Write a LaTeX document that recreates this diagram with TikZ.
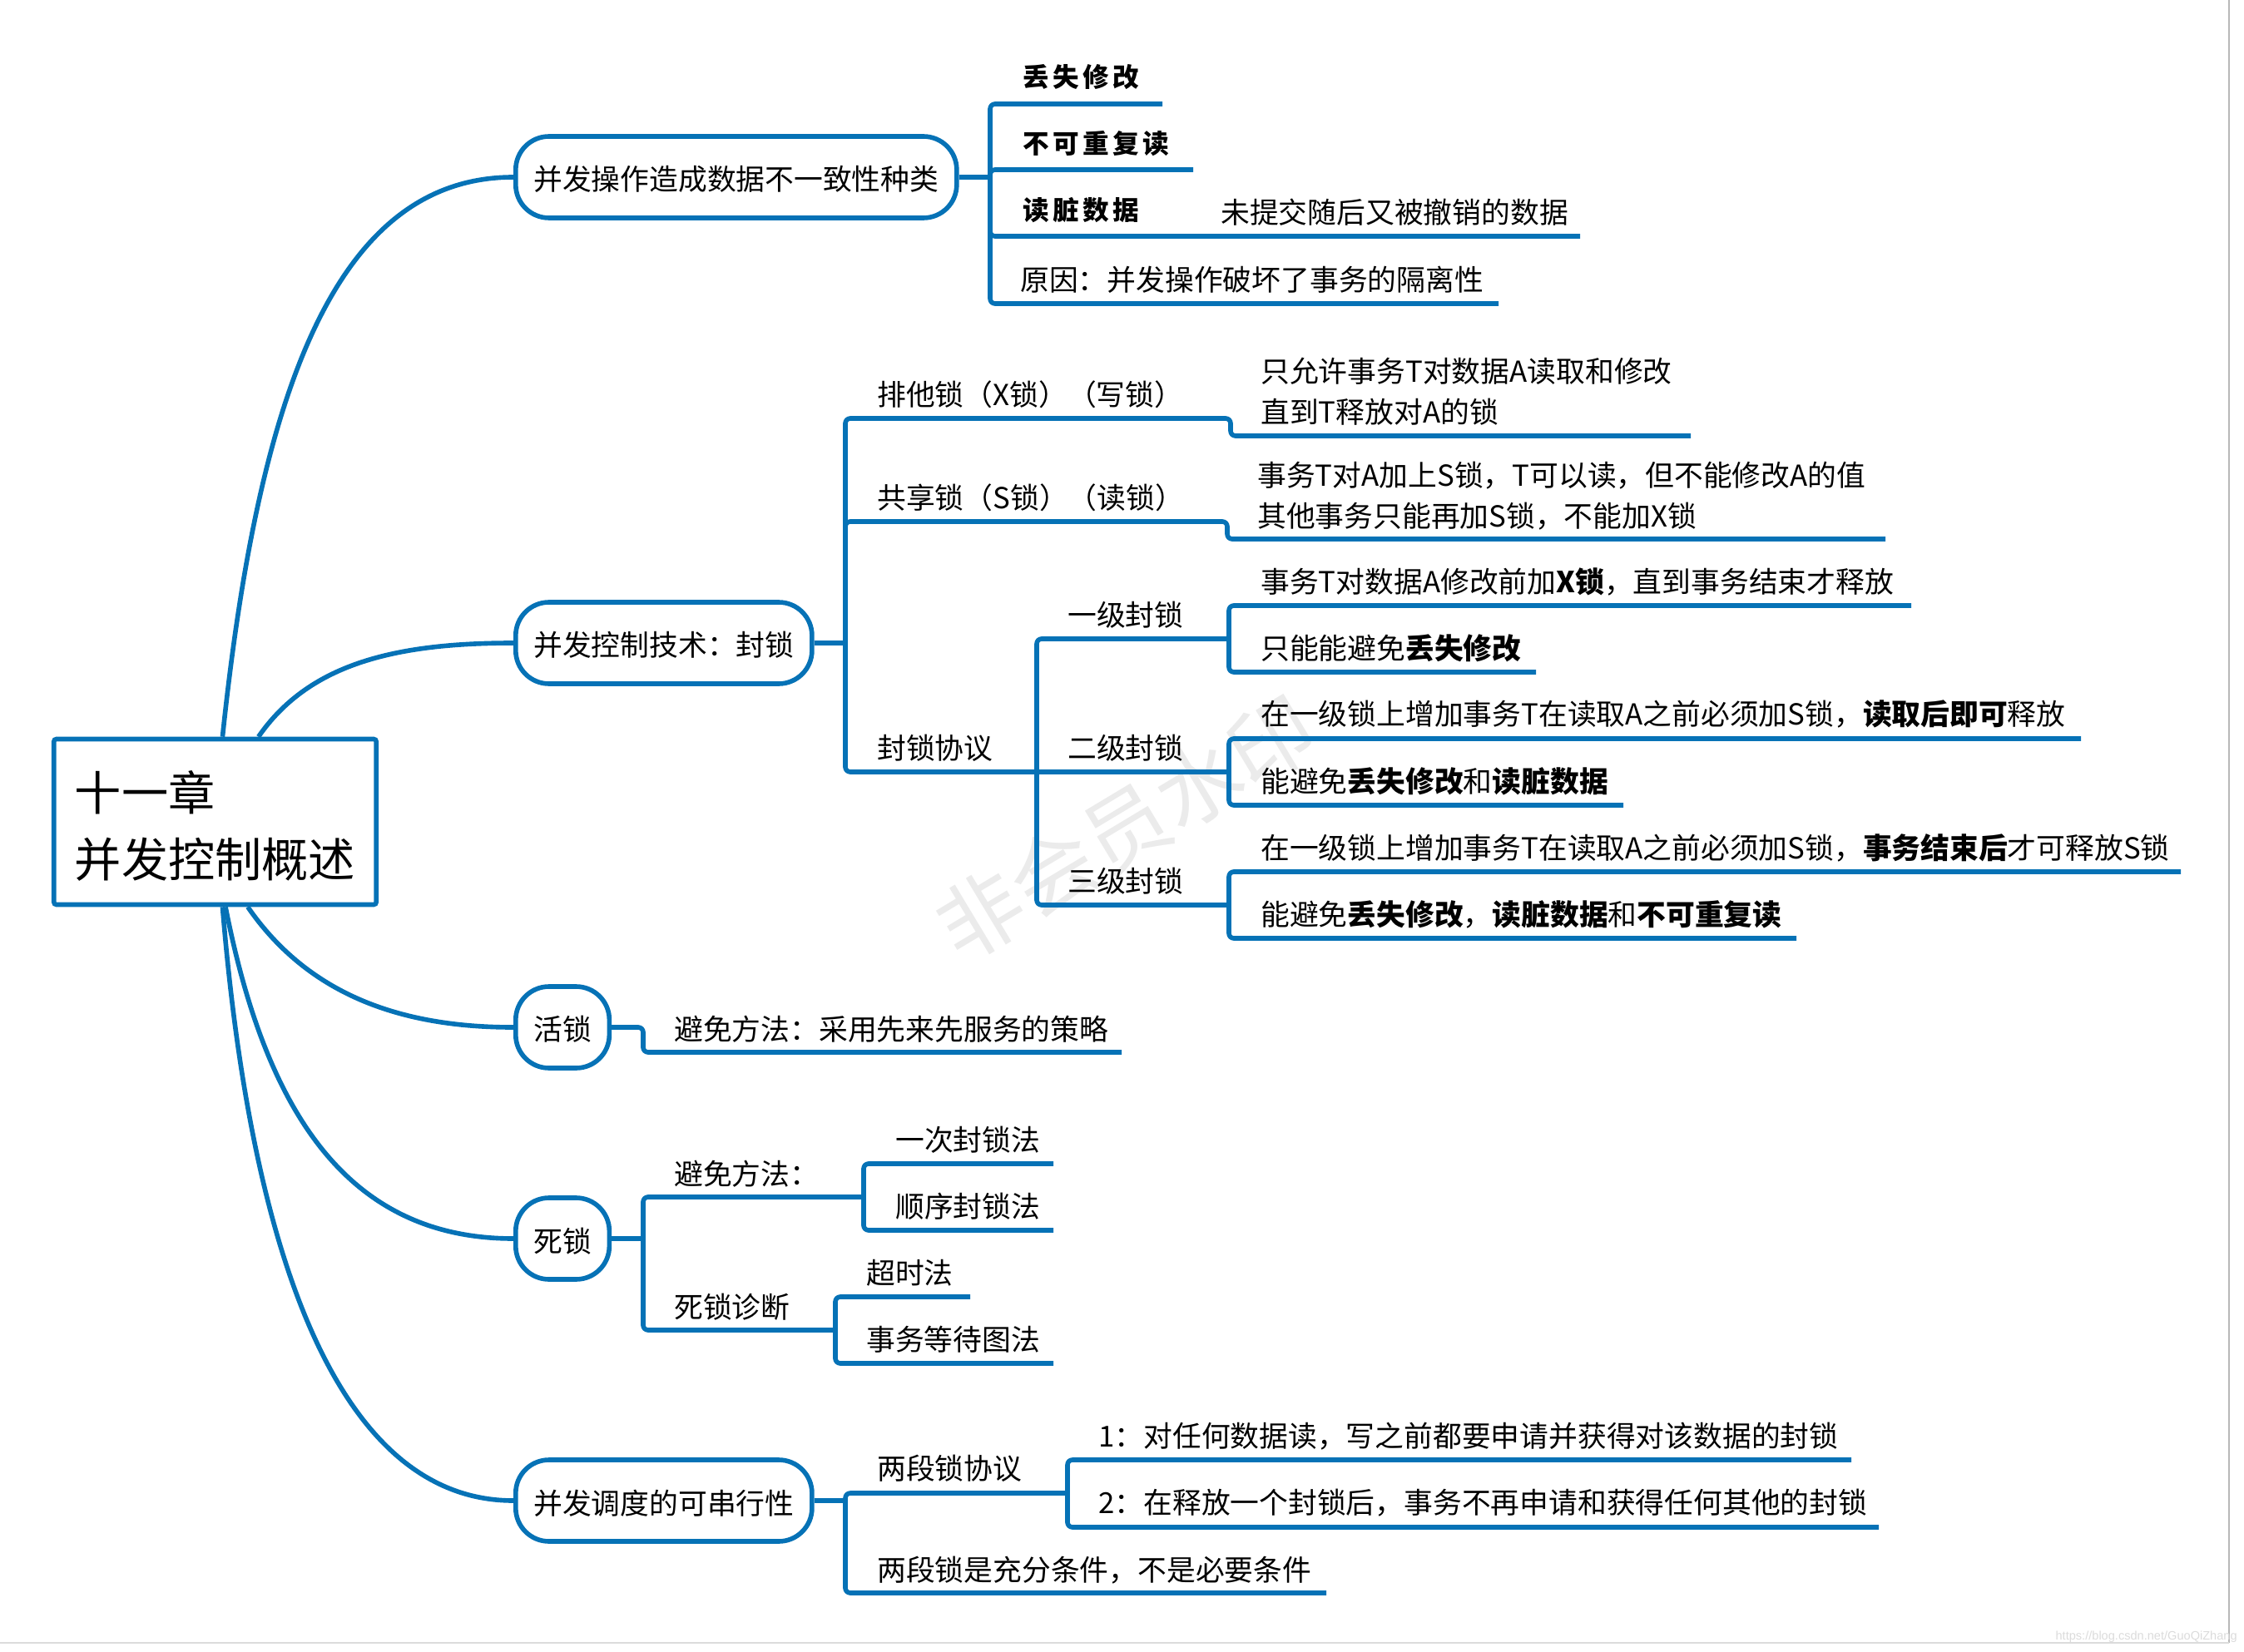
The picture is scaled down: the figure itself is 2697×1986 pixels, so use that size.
\documentclass[tikz,border=0pt]{standalone}
\usepackage{fontspec}
\setmainfont{Noto Sans CJK SC}
\newfontfamily\brushfont[LetterSpace=14]{Noto Sans CJK SC}
\newfontfamily\urlfont{Liberation Sans}
\definecolor{mapblue}{HTML}{0672B6}
\tikzset{
  branch/.style={draw=mapblue,line width=3.2pt,rounded corners=0.12cm},
  pill/.style={draw=mapblue,line width=3.2pt,rounded corners=0.8cm,minimum height=1.96cm,inner xsep=0.43cm,anchor=west,text height=20.6pt,text depth=2.4pt,font=\fontsize{19.8}{28}\selectfont},
  leaf/.style={anchor=west,inner sep=0pt,text height=17.4pt,text depth=2.4pt,font=\fontsize{19.8}{28}\selectfont},
  brush/.style={anchor=west,inner sep=0pt,text height=15.8pt,text depth=2.2pt,font=\brushfont\bfseries\fontsize{18}{22}\selectfont},
}

\begin{document}
\begin{tikzpicture}[x=0.02cm,y=-0.02cm]
\useasboundingbox (0,0) rectangle (2697,1986);

    \node[rotate=31,text=black!8,font=\fontsize{58}{64}\selectfont] (mark) at (1353,995) {非会员水印};
    \draw[black!28,line width=0.9pt] (2679,0) -- (2679,1975);
    \draw[black!14,line width=1.2pt] (0,1975) -- (2679,1975);
    \node[anchor=east,inner sep=0pt,text=black!14,font=\urlfont\fontsize{8.3}{10}\selectfont] (url) at (2689,1968) {https://blog.csdn.net/GuoQiZhang};

    \node[draw=mapblue,line width=3.2pt,rounded corners=0.06cm,minimum width=7.75cm,minimum height=3.98cm,align=left,font=\fontsize{32}{45.5}\selectfont] (root) at (258.5,988) {\rule{0pt}{33pt}十一章\\并发控制概述};

    \node[pill] (kinds) at (617,213) {并发操作造成数据不一致性种类};
    \node[pill] (tech) at (617,773) {并发控制技术：封锁};
    \node[pill] (live) at (617,1235) {活锁};
    \node[pill] (dead) at (617,1489) {死锁};
    \node[pill] (serial) at (617,1804) {并发调度的可串行性};

    \draw[branch] (root.85) .. controls (310,480) and (400,213) .. (kinds.west);
    \draw[branch] (root.63) .. controls (370,800) and (470,773) .. (tech.west);
    \draw[branch] (root.-69) .. controls (370,1195) and (480,1235) .. (live.west);
    \draw[branch] (root.-83) .. controls (320,1340) and (420,1489) .. (dead.west);
    \draw[branch] (root.-85) .. controls (300,1490) and (400,1804) .. (serial.west);

    \node[brush] (lost) at (1229,93) {丢失修改};
    \node[brush] (repeat) at (1229,173) {不可重复读};
    \node[brush] (dirty) at (1229,253) {读脏数据};
    \node[leaf] (dirtyNote) at (1467,255) {未提交随后又被撤销的数据};
    \node[leaf] (cause) at (1226,336) {原因：并发操作破坏了事务的隔离性};
    \coordinate (kindsJoint) at (1190,213);
    \coordinate (lostEnd) at (1397,125);
    \coordinate (repeatEnd) at (1434,204);
    \coordinate (dirtyEnd) at (1899,284);
    \coordinate (causeEnd) at (1801,365);
    \draw[branch] (kinds.east) -- (kindsJoint);
    \draw[branch] (lostEnd) -| (kindsJoint);
    \draw[branch] (repeatEnd) -| (kindsJoint);
    \draw[branch] (dirtyEnd) -| (kindsJoint);
    \draw[branch] (causeEnd) -| (kindsJoint);

    \node[leaf] (xlock) at (1054,474) {排他锁（X锁）（写锁）};
    \node[leaf] (xruleA) at (1515,446) {只允许事务T对数据A读取和修改};
    \node[leaf] (xruleB) at (1515,495) {直到T释放对A的锁};
    \node[leaf] (slock) at (1054,598) {共享锁（S锁）（读锁）};
    \node[leaf] (sruleA) at (1511,571) {事务T对A加上S锁，T可以读，但不能修改A的值};
    \node[leaf] (sruleB) at (1511,620) {其他事务只能再加S锁，不能加X锁};
    \node[leaf] (proto) at (1054,899) {封锁协议};
    \node[leaf] (lvlOne) at (1283,739) {一级封锁};
    \node[leaf] (lvlTwo) at (1283,899) {二级封锁};
    \node[leaf] (lvlThree) at (1283,1059) {三级封锁};
    \node[leaf] (oneA) at (1515,699) {事务T对数据A修改前加\textbf{X锁}，直到事务结束才释放};
    \node[leaf] (oneB) at (1515,779) {只能能避免\textbf{丢失修改}};
    \node[leaf] (twoA) at (1515,858) {在一级锁上增加事务T在读取A之前必须加S锁，\textbf{读取后即可}释放};
    \node[leaf] (twoB) at (1515,939) {能避免\textbf{丢失修改}和\textbf{读脏数据}};
    \node[leaf] (threeA) at (1515,1019) {在一级锁上增加事务T在读取A之前必须加S锁，\textbf{事务结束后}才可释放S锁};
    \node[leaf] (threeB) at (1515,1099) {能避免\textbf{丢失修改}，\textbf{读脏数据}和\textbf{不可重复读}};
    \coordinate (techJoint) at (1016,773);
    \coordinate (xKnee) at (1479,503);
    \coordinate (xEnd) at (2032,524);
    \coordinate (sKnee) at (1475,627);
    \coordinate (sEnd) at (2266,648);
    \coordinate (protoJoint) at (1246,928);
    \coordinate (oneJoint) at (1477,768);
    \coordinate (twoJoint) at (1477,928);
    \coordinate (threeJoint) at (1477,1088);
    \coordinate (oneAEnd) at (2297,728);
    \coordinate (oneBEnd) at (1846,808);
    \coordinate (twoAEnd) at (2501,888);
    \coordinate (twoBEnd) at (1951,968);
    \coordinate (threeAEnd) at (2621,1048);
    \coordinate (threeBEnd) at (2159,1128);
    \draw[branch] (tech.east) -- (techJoint);
    \draw[branch] (xEnd) -| (xKnee) -| (techJoint);
    \draw[branch] (sEnd) -| (sKnee) -| (techJoint);
    \draw[branch] (protoJoint) -| (techJoint);
    \draw[branch] (oneJoint) -| (protoJoint);
    \draw[branch] (twoJoint) -- (protoJoint);
    \draw[branch] (threeJoint) -| (protoJoint);
    \draw[branch] (oneAEnd) -| (oneJoint);
    \draw[branch] (oneBEnd) -| (oneJoint);
    \draw[branch] (twoAEnd) -| (twoJoint);
    \draw[branch] (twoBEnd) -| (twoJoint);
    \draw[branch] (threeAEnd) -| (threeJoint);
    \draw[branch] (threeBEnd) -| (threeJoint);

    \node[leaf] (liveNote) at (810,1237) {避免方法：采用先来先服务的策略};
    \coordinate (liveJoint) at (773,1235);
    \coordinate (liveEnd) at (1348,1265);
    \draw[branch] (live.east) -- (liveJoint) |- (liveEnd);

    \node[leaf] (avoid) at (810,1411) {避免方法：};
    \node[leaf] (once) at (1076,1370) {一次封锁法};
    \node[leaf] (order) at (1076,1450) {顺序封锁法};
    \node[leaf] (diag) at (810,1571) {死锁诊断};
    \node[leaf] (timeout) at (1041,1530) {超时法};
    \node[leaf] (waitfor) at (1041,1610) {事务等待图法};
    \coordinate (deadJoint) at (773,1489);
    \coordinate (avoidJoint) at (1038,1439);
    \coordinate (diagJoint) at (1004,1599);
    \coordinate (onceEnd) at (1266,1399);
    \coordinate (orderEnd) at (1266,1479);
    \coordinate (timeoutEnd) at (1166,1559);
    \coordinate (waitforEnd) at (1266,1639);
    \draw[branch] (dead.east) -- (deadJoint);
    \draw[branch] (avoidJoint) -| (deadJoint);
    \draw[branch] (diagJoint) -| (deadJoint);
    \draw[branch] (onceEnd) -| (avoidJoint);
    \draw[branch] (orderEnd) -| (avoidJoint);
    \draw[branch] (timeoutEnd) -| (diagJoint);
    \draw[branch] (waitforEnd) -| (diagJoint);

    \node[leaf] (twophase) at (1054,1765) {两段锁协议};
    \node[leaf] (phaseA) at (1320,1726) {1：对任何数据读，写之前都要申请并获得对该数据的封锁};
    \node[leaf] (phaseB) at (1320,1806) {2：在释放一个封锁后，事务不再申请和获得任何其他的封锁};
    \node[leaf] (suffice) at (1054,1887) {两段锁是充分条件，不是必要条件};
    \coordinate (serialJoint) at (1016,1804);
    \coordinate (phaseJoint) at (1283,1795);
    \coordinate (phaseAEnd) at (2225,1755);
    \coordinate (phaseBEnd) at (2258,1836);
    \coordinate (sufficeEnd) at (1594,1915);
    \draw[branch] (serial.east) -- (serialJoint);
    \draw[branch] (phaseJoint) -| (serialJoint);
    \draw[branch] (sufficeEnd) -| (serialJoint);
    \draw[branch] (phaseAEnd) -| (phaseJoint);
    \draw[branch] (phaseBEnd) -| (phaseJoint);
\end{tikzpicture}
\end{document}
